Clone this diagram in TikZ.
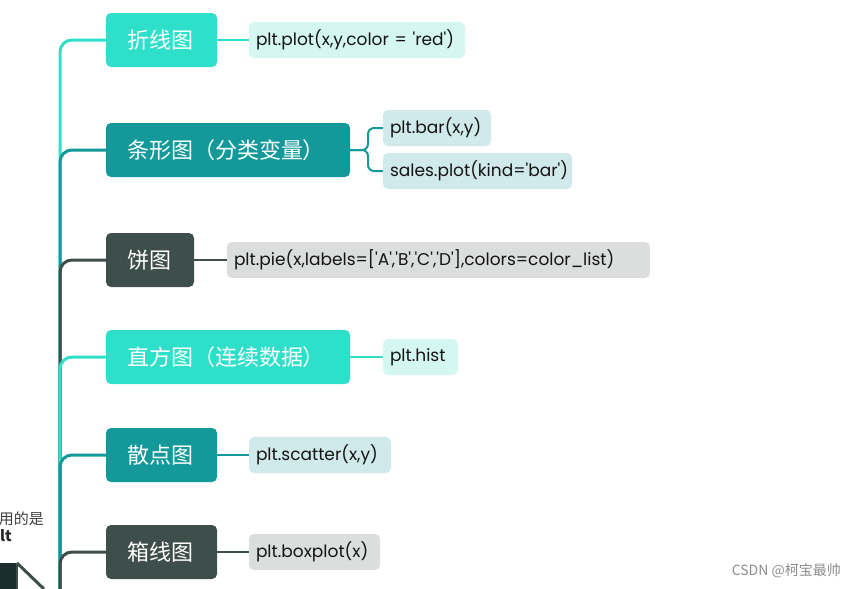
\documentclass[tikz,border=0pt]{standalone}
\usepackage{fontspec}
\setmainfont{Noto Sans CJK SC}
\newfontfamily\labfont{Poppins}
\begin{document}
\begin{tikzpicture}[x=1pt,y=-1pt,
  lt/.style={fill=cA,text=white},
  tl/.style={fill=cB,text=white},
  dk/.style={fill=cC,text=white},
  cat/.style={rounded corners=5pt,minimum height=54pt,font=\fontsize{22}{22}\selectfont,inner xsep=21pt,align=left},
  lab/.style={rounded corners=5pt,minimum height=36pt,font=\labfont\fontsize{17}{17}\selectfont,text=black!92,inner xsep=7pt,align=left},
  br/.style={line width=3pt,rounded corners=12pt},
  cn/.style={line width=2pt}]
\definecolor{cA}{HTML}{2EE0C9}
\definecolor{cB}{HTML}{14999A}
\definecolor{cC}{HTML}{3E4E4A}
\definecolor{pA}{HTML}{D5F7F1}
\definecolor{pB}{HTML}{D0E9EA}
\definecolor{pC}{HTML}{DCDEDE}
\useasboundingbox (0,0) rectangle (855,589);
\clip (0,0) rectangle (855,589);
% categories
\node[cat,lt,text width=69pt] (n1) at (161.5,40) {折线图};
\node[cat,tl,text width=202pt] (n2) at (228,150) {条形图（分类变量）};
\node[cat,dk,text width=46pt] (n3) at (150,260) {饼图};
\node[cat,lt,text width=202pt] (n4) at (228,357) {直方图（连续数据）};
\node[cat,tl,text width=69pt] (n5) at (161.5,455) {散点图};
\node[cat,dk,text width=69pt] (n6) at (161.5,552) {箱线图};
% labels
\node[lab,fill=pA,text width=202pt] (l1) at (357,40) {plt.plot(x,y,color = 'red')};
\node[lab,fill=pB,text width=94pt] (l2a) at (437,128) {plt.bar(x,y)};
\node[lab,fill=pB,text width=175pt] (l2b) at (477.5,171) {sales.plot(kind='bar')};
\node[lab,fill=pC,text width=409pt] (l3) at (438.5,260) {plt.pie(x,labels=['A','B','C','D'],colors=color\_list)};
\node[lab,fill=pA,text width=61pt] (l4) at (420.5,357) {plt.hist};
\node[lab,fill=pB,text width=128pt] (l5) at (320,455) {plt.scatter(x,y)};
\node[lab,fill=pC,text width=117pt] (l6) at (314.5,552) {plt.boxplot(x)};
% trunk branches
\coordinate (b) at (60,620);
\draw[br,cA] (b) |- (n1.west);
\draw[br,cB] (b) |- (n2.west);
\draw[br,cC] (b) |- (n3.west);
\draw[br,cA] (b) |- (n4.west);
\draw[br,cB] (b) |- (n5.west);
\draw[br,cC] (b) |- (n6.west);
% connectors
\draw[cn,cA] (n1.east) -- (l1.west);
\draw[cn,cB,rounded corners=6pt] (n2.east) -- (368,150) |- (l2a.west);
\draw[cn,cB,rounded corners=6pt] (n2.east) -- (368,150) |- (l2b.west);
\draw[cn,cC] (n3.east) -- (l3.west);
\draw[cn,cA] (n4.east) -- (l4.west);
\draw[cn,cB] (n5.east) -- (l5.west);
\draw[cn,cC] (n6.east) -- (l6.west);
% cut-off left fragments
\node[anchor=east,font=\fontsize{15}{15}\selectfont,text=black!75,inner sep=0pt] (f1) at (44,519) {用的是};
\node[anchor=west,font=\bfseries\fontsize{15}{15}\selectfont,text=black!85,inner sep=0pt] (f2) at (0,536) {lt};
\fill[cC!80!cB!50!black] (0,563) rectangle (18,589);
\draw[cC,line width=3pt] (17,563) -- (44,589);
\draw[cC,line width=2pt] (17,563) -- (17,589);
% watermark
\node[anchor=east,font=\fontsize{14}{14}\selectfont,text=black!45,inner sep=0pt] (wm) at (841,571) {CSDN @柯宝最帅};
\end{tikzpicture}
\end{document}
